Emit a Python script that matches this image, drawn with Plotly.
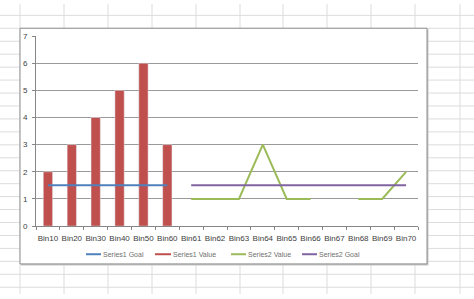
import plotly.graph_objects as go

categories = ["Bin10", "Bin20", "Bin30", "Bin40", "Bin50", "Bin60",
              "Bin61", "Bin62", "Bin63", "Bin64", "Bin65", "Bin66",
              "Bin67", "Bin68", "Bin69", "Bin70"]
series1_value = [2, 3, 4, 5, 6, 3, None, None, None, None, None, None, None, None, None, None]
series1_goal = [1.5, 1.5, 1.5, 1.5, 1.5, 1.5, None, None, None, None, None, None, None, None, None, None]
series2_value = [None, None, None, None, None, None, 1, 1, 1, 3, 1, 1, None, 1, 1, 2]
series2_goal = [None, None, None, None, None, None, 1.5, 1.5, 1.5, 1.5, 1.5, 1.5, 1.5, 1.5, 1.5, 1.5]
y_ticks = [0, 1, 2, 3, 4, 5, 6, 7]
legend_names = ["Series1 Goal", "Series1 Value", "Series2 Value", "Series2 Goal"]

W, H = 474, 299
BLUE, RED, GREEN, PURPLE = "#4F81BD", "#C0504D", "#9BBB59", "#8064A2"
legend_colors = [BLUE, RED, GREEN, PURPLE]
FONT = "Liberation Sans"

fig = go.Figure()
fig.add_trace(go.Scatter(x=categories, y=series1_goal, name=legend_names[0], mode="lines",
                         line=dict(color=BLUE, width=2)))
fig.add_trace(go.Bar(x=categories, y=series1_value, name=legend_names[1], marker_color=RED,
                     width=0.39))
fig.add_trace(go.Scatter(x=categories, y=series2_value, name=legend_names[2], mode="lines",
                         line=dict(color=GREEN, width=2), connectgaps=False))
fig.add_trace(go.Scatter(x=categories, y=series2_goal, name=legend_names[3], mode="lines",
                         line=dict(color=PURPLE, width=2)))

def px_x(v):
    return v / W

def px_y(v):
    return 1 - v / H

shapes = []
# spreadsheet cell grid
for cx in [20, 64, 108, 152, 196, 240, 283, 327, 371, 415, 460]:
    shapes.append(dict(type="line", xref="paper", yref="paper", x0=px_x(cx), x1=px_x(cx),
                       y0=0, y1=1, line=dict(color="#dcdcdc", width=1), layer="below"))
r = 11.7
while r < H:
    shapes.append(dict(type="line", xref="paper", yref="paper", x0=0, x1=1,
                       y0=px_y(r), y1=px_y(r), line=dict(color="#dcdcdc", width=1), layer="below"))
    r += 13.35
# chart area shadow + box
shapes.append(dict(type="rect", xref="paper", yref="paper", x0=px_x(21), x1=px_x(428.5),
                   y0=px_y(269.5), y1=px_y(26), line=dict(width=0), fillcolor="#c8c8c8", layer="below"))
shapes.append(dict(type="rect", xref="paper", yref="paper", x0=px_x(20), x1=px_x(427),
                   y0=px_y(268), y1=px_y(25), line=dict(color="#8c8c8c", width=1),
                   fillcolor="white", layer="below"))

# Excel-style legend (short line keys)
annotations = []
legend_line_x = [(86, 101), (155, 171), (231, 246), (302, 317)]
LEG_Y = 258
for name, color, (lx0, lx1) in zip(legend_names, legend_colors, legend_line_x):
    shapes.append(dict(type="line", xref="paper", yref="paper", x0=px_x(lx0), x1=px_x(lx1),
                       y0=px_y(LEG_Y), y1=px_y(LEG_Y), line=dict(color=color, width=2)))
    annotations.append(dict(text=name, xref="paper", yref="paper", x=px_x(lx1), y=px_y(LEG_Y),
                            xanchor="left", yanchor="middle", showarrow=False,
                            font=dict(size=7, color="#6f6f6f", family=FONT)))

fig.update_layout(
    width=W, height=H,
    margin=dict(l=0, r=0, t=0, b=0),
    paper_bgcolor="white", plot_bgcolor="rgba(0,0,0,0)",
    font=dict(family=FONT, size=8, color="#404040"),
    shapes=shapes,
    annotations=annotations,
    showlegend=False,
    xaxis=dict(domain=[px_x(36), px_x(418)], type="category", categoryorder="array",
               categoryarray=categories, showgrid=False, showline=True, linecolor="#868686",
               linewidth=1, ticks="outside", ticklen=3, tickcolor="#868686", tickangle=0,
               tickson="boundaries", tickfont=dict(size=8, color="#404040"),
               ticklabelstandoff=4,
               range=[-0.5, len(categories) - 0.5], fixedrange=True, zeroline=False),
    yaxis=dict(domain=[px_y(229), px_y(33)], range=[0, 7], tickvals=y_ticks,
               showgrid=True, gridcolor="#999999", gridwidth=1, showline=True,
               linecolor="#868686", ticks="outside", ticklen=3, tickcolor="#868686",
               tickfont=dict(size=8, color="#404040"), ticklabelstandoff=3,
               zeroline=False, fixedrange=True),
)

fig.write_html("out.html",
               post_script="document.body.style.margin='0';document.body.style.overflow='hidden';")
